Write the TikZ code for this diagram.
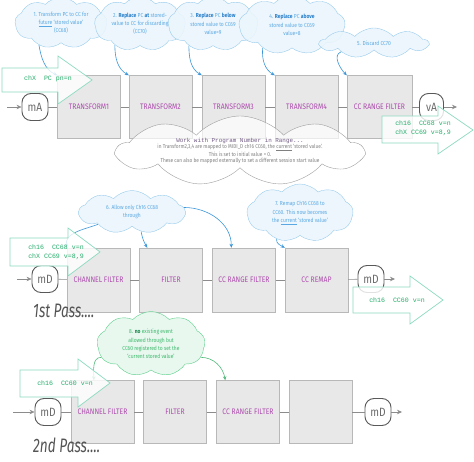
\documentclass[tikz,border=0pt]{standalone}
\usepackage{fontspec}
\setmainfont{Fira Sans}
\setmonofont{Liberation Mono}
\newfontfamily\condfont[FakeStretch=0.85]{Fira Sans}
\newfontfamily\passfont[FakeStretch=0.7]{Fira Sans}
\usetikzlibrary{shapes.symbols,arrows.meta}
\definecolor{boxfill}{rgb}{0.91,0.91,0.91}
\definecolor{boxline}{rgb}{0.72,0.72,0.72}
\definecolor{boxtext}{rgb}{0.68,0.30,0.68}
\definecolor{linkgray}{rgb}{0.55,0.55,0.55}
\definecolor{portline}{rgb}{0.35,0.35,0.35}
\definecolor{porttext}{rgb}{0.42,0.42,0.42}
\definecolor{carrierline}{rgb}{0.55,0.86,0.75}
\definecolor{carriertext}{rgb}{0.15,0.68,0.42}
\definecolor{notefill}{rgb}{0.92,0.96,0.99}
\definecolor{noteline}{rgb}{0.60,0.80,0.93}
\definecolor{notetext}{rgb}{0.35,0.66,0.89}
\definecolor{notebold}{rgb}{0.16,0.50,0.80}
\definecolor{notearrowc}{rgb}{0.23,0.59,0.85}
\definecolor{gnotefill}{rgb}{0.90,0.97,0.93}
\definecolor{gnoteline}{rgb}{0.36,0.81,0.54}
\definecolor{gnotetext}{rgb}{0.24,0.72,0.42}
\definecolor{gnotebold}{rgb}{0.10,0.52,0.29}
\definecolor{bigline}{rgb}{0.62,0.62,0.62}
\definecolor{bigmono}{rgb}{0.45,0.36,0.52}
\definecolor{bigtext}{rgb}{0.50,0.50,0.50}
\definecolor{passtext}{rgb}{0.33,0.33,0.33}
\newcommand\notekey[1]{\textcolor{notebold}{\textbf{#1}}}
\newcommand\gnotekey[1]{\textcolor{gnotebold}{\textbf{#1}}}

\tikzset{
  box/.style={draw=boxline, fill=boxfill, minimum width=63pt, minimum height=63pt,
    inner sep=0pt, text=boxtext, font=\condfont\fontsize{8}{9}\selectfont},
  port/.style={draw=portline, line width=0.9pt, fill=white, rounded corners=9pt,
    minimum width=26pt, minimum height=27pt, inner sep=0pt, text=porttext,
    font=\condfont\fontsize{12}{12}\selectfont},
  link/.style={draw=linkgray, line width=0.6pt},
  flow/.style={link, -{Stealth[length=5pt,width=4.5pt]}},
  note/.style={cloud, cloud puffs=9, cloud puff arc=95, cloud ignores aspect,
    draw=noteline, fill=notefill, fill opacity=0.9, inner sep=0pt},
  gnote/.style={note, draw=gnoteline, fill=gnotefill},
  notelabel/.style={align=center, inner sep=0pt, text=notetext,
    font=\condfont\fontsize{5.8}{8.2}\selectfont},
  gnotelabel/.style={notelabel, text=gnotetext},
  notearrow/.style={draw=notearrowc, line width=0.6pt, -{Stealth[length=4pt,width=3.5pt]}},
  gnotearrow/.style={notearrow, draw=gnoteline!90!black},
  carrier/.style={draw=carrierline, line width=0.7pt, fill=white, fill opacity=0.82},
  carriertext/.style={align=left, inner sep=0pt, text=carriertext,
    font=\ttfamily\fontsize{6.6}{8.5}\selectfont},
  bignote/.style={cloud, cloud puffs=9, cloud puff arc=95, cloud ignores aspect,
    draw=bigline, fill=white, fill opacity=0.7, inner sep=0pt},
  passlabel/.style={anchor=west, inner sep=0pt, text=passtext,
    font=\passfont\itshape\fontsize{19.5}{19.5}\selectfont},
}

\begin{document}
\begin{tikzpicture}[x=1pt,y=1pt]
\useasboundingbox (0,0) rectangle (474,461);

% first chain
\node[port] (ma) at (35,354) {mA};
\node[box] (t1) at (89,354) {TRANSFORM1};
\node[box] (t2) at (160.5,354) {TRANSFORM2};
\node[box] (t3) at (233.5,354) {TRANSFORM3};
\node[box] (t4) at (306.5,354) {TRANSFORM4};
\node[box, minimum width=65pt] (rf1) at (379.5,354) {CC RANGE FILTER};
\node[port, minimum width=24pt] (va) at (431.5,354) {vA};
\coordinate (ina) at (7,354);
\coordinate (outa) at (457,354);
\draw[flow] (ina) -- (ma);
\draw[link] (ma) -- (t1);
\draw[link] (t1) -- (t2);
\draw[link] (t2) -- (t3);
\draw[link] (t3) -- (t4);
\draw[link] (t4) -- (rf1);
\draw[link] (rf1) -- (va);
\draw[flow] (va) -- (outa);

\node[note, minimum width=92pt, minimum height=51pt,
  label={[notelabel]center:{1. Transform PC to CC for\\\underline{future} ‘stored value’\\(CC68)}}] (c1) at (61,438) {};
\node[note, minimum width=91pt, minimum height=54pt,
  label={[notelabel]center:{2. \notekey{Replace} PC \notekey{at} stored-\\value to CC for discarding\\(CC70)}}] (c2) at (140,437) {};
\node[note, minimum width=90pt, minimum height=54pt,
  label={[notelabel]center:{3. \notekey{Replace} PC \notekey{below}\\stored value to CC69\\value=9}}] (c3) at (213,437) {};
\node[note, minimum width=106pt, minimum height=59pt,
  label={[notelabel]center:{4. \notekey{Replace} PC \notekey{above}\\stored value to CC69\\value=8}}] (c4) at (292,436) {};
\node[note, minimum width=108pt, minimum height=30pt,
  label={[notelabel]center:{5. Discard CC70}}] (c5) at (374,418) {};

\draw[notearrow] (c1.225) to[out=-80,in=155] (t1.north west);
\draw[notearrow] (c2.220) to[out=-90,in=150] (t2.north west);
\draw[notearrow] (c3.222) to[out=-90,in=150] (t3.north west);
\draw[notearrow] (c4.218) to[out=-95,in=150] (t4.north west);
\draw[notearrow] (c5.195) to[out=200,in=135] (rf1.north west);

\node[bignote, minimum width=245pt, minimum height=70pt,
  label={[align=center, inner sep=0pt, text=bigtext, font=\condfont\fontsize{5.6}{6.4}\selectfont]center:{%
    {\ttfamily\fontsize{5.9}{7}\selectfont\textcolor{bigmono}{Work with Program Number in Range...}}\\
    in Transform2,3,4 are mapped to MIDI\_D ch16 CC60, the \underline{current} ‘stored value’.\\
    This is set to initial value = 0.\\
    These can also be mapped externally to set a different session start value}}] (bn) at (240,310) {};

\draw[carrier] (2,369) -- (58,369) -- (58,357) -- (92,381) -- (58,405) -- (58,393) -- (2,393) -- cycle;
\node[carriertext] (pa) at (48,382) {chX~~PC~pn=n};
\draw[carrier] (382,318) -- (438,318) -- (438,307) -- (473,331) -- (438,355) -- (438,345) -- (382,345) -- cycle;
\node[carriertext] (pva) at (423,333) {ch16~~CC68~v=n\\chX~CC69~v=8,9};

% first pass
\node[port] (md1) at (45,182) {mD};
\node[box, minimum height=64pt] (r2cf) at (98.5,181) {CHANNEL FILTER};
\node[box, minimum height=64pt] (r2fl) at (171,181) {FILTER};
\node[box, minimum height=64pt] (r2rf) at (244,181) {CC RANGE FILTER};
\node[box, minimum height=64pt] (r2rm) at (316.5,181) {CC REMAP};
\node[port] (md2) at (371,182) {mD};
\coordinate (inb) at (17,182);
\coordinate (outb) at (395,182);
\draw[flow] (inb) -- (md1);
\draw[link] (md1) -- (r2cf);
\draw[link] (r2cf) -- (r2fl);
\draw[link] (r2fl) -- (r2rf);
\draw[link] (r2rf) -- (r2rm);
\draw[link] (r2rm) -- (md2);
\draw[flow] (md2) -- (outb);

\node[note, minimum width=106pt, minimum height=43pt,
  label={[notelabel]center:{6. Allow only Ch16 CC68\\through}}] (c6) at (132,249) {};
\node[note, minimum width=106pt, minimum height=58pt,
  label={[notelabel]center:{7. Remap Ch16 CC68 to\\CC60. This now becomes\\the \underline{current} ‘stored value’}}] (c7) at (300,248) {};

\draw[notearrow] (c6.200) to[out=200,in=100] (r2cf.north west);
\draw[notearrow] (c6.295) to[out=-80,in=120] ([xshift=8pt]r2fl.north west);
\draw[notearrow] (c6.5) to[out=0,in=90] ([xshift=19pt]r2rf.north west);
\draw[notearrow] (c7.228) to[out=-100,in=150] (r2rm.north west);

\draw[carrier] (10,195) -- (68,195) -- (68,185) -- (100,209) -- (68,233) -- (68,223) -- (10,223) -- cycle;
\node[carriertext] (pmd1) at (56,209) {ch16~~CC68~v=n\\chX~CC69~v=8,9};
\draw[carrier] (353,148) -- (410,148) -- (410,137) -- (443,161) -- (410,185) -- (410,174) -- (353,174) -- cycle;
\node[carriertext] (pmd2) at (397,161) {ch16~~CC60~v=n};

\node[passlabel] (pass1) at (33,150) {1st Pass....};

% second pass
\node[port] (md3) at (48,49) {mD};
\node[box] (r3cf) at (102.5,49) {CHANNEL FILTER};
\node[box] (r3fl) at (175,49) {FILTER};
\node[box] (r3rf) at (248,49) {CC RANGE FILTER};
\node[box] (r3x) at (320.5,49) {};
\node[port] (md4) at (378,49) {mD};
\coordinate (inc) at (13,49);
\coordinate (outc) at (402,49);
\draw[flow] (inc) -- (md3);
\draw[link] (md3) -- (r3cf);
\draw[link] (r3cf) -- (r3fl);
\draw[link] (r3fl) -- (r3rf);
\draw[link] (r3rf) -- (r3x);
\draw[link] (r3x) -- (md4);
\draw[flow] (md4) -- (outc);

\node[gnote, minimum width=108pt, minimum height=65pt,
  label={[gnotelabel]center:{8. \gnotekey{no} existing event\\allowed through but\\CC60 registered to set the\\‘current stored value’}}] (c8) at (151,117) {};

\draw[gnotearrow] (c8.195) to[out=180,in=90] ([xshift=23pt]r3cf.north west);
\draw[gnotearrow] (c8.345) to[out=0,in=100] ([xshift=9pt]r3rf.north west);

\draw[carrier] (20,64) -- (78,64) -- (78,54) -- (110,78) -- (78,102) -- (78,91) -- (20,91) -- cycle;
\node[carriertext] (pmd3) at (65,78) {ch16~~CC60~v=n};

\node[passlabel] (pass2) at (33,16) {2nd Pass....};
\end{tikzpicture}
\end{document}
